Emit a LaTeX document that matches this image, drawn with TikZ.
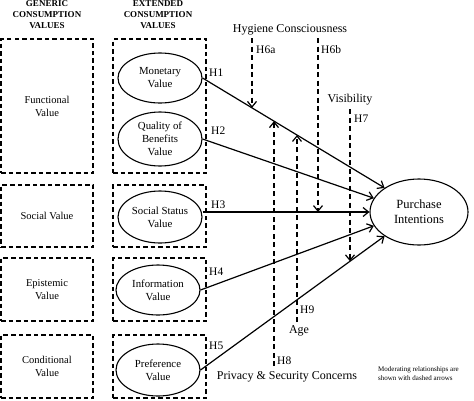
\documentclass[tikz,border=0pt]{standalone}
\usepackage{fontspec}
\setmainfont{Liberation Serif}
\usetikzlibrary{arrows.meta,intersections,calc}
\tikzset{
  x=1pt,y=-1pt,
  dbox/.style={draw,dashed,line width=1.3pt,dash pattern=on 4.5pt off 3pt,rectangle,inner sep=0pt,align=center,font=\fontsize{10.5}{13}\selectfont},
  ell/.style={draw,ellipse,line width=1.1pt,inner sep=0pt,minimum width=84pt,minimum height=50pt,align=center,font=\fontsize{10.8}{13}\selectfont},
  hdr/.style={align=center,font=\fontsize{9}{11}\selectfont\bfseries},
  lab/.style={font=\fontsize{11.5}{13}\selectfont,inner sep=0pt,anchor=west},
  modt/.style={font=\fontsize{12}{14}\selectfont,inner sep=0pt},
  rel/.style={line width=1.2pt,-{Straight Barb[length=5.5pt,width=9pt,line width=1.2pt]}},
  mod/.style={line width=1.6pt,dash pattern=on 5pt off 3.5pt,-{Straight Barb[length=5.5pt,width=9pt,line width=1.2pt]}},
}
\usetikzlibrary{shapes.geometric}
\begin{document}
\begin{tikzpicture}
\useasboundingbox (0,0) rectangle (474,400);
% headers
\node[hdr] (hg) at (47,15) {GENERIC\\CONSUMPTION\\VALUES};
\node[hdr] (he) at (158,15) {EXTENDED\\CONSUMPTION\\VALUES};
% generic boxes
\node[dbox,minimum width=92pt,minimum height=134pt] (g1) at (47,106) {Functional\\Value};
\node[dbox,minimum width=92pt,minimum height=62pt] (g2) at (47,216) {Social Value};
\node[dbox,minimum width=92pt,minimum height=63pt] (g3) at (47,289.5) {Epistemic\\Value};
\node[dbox,minimum width=92pt,minimum height=63pt] (g4) at (47,366.5) {Conditional\\Value};
% extended boxes
\node[dbox,minimum width=93pt,minimum height=134pt] (e1) at (159.5,106) {};
\node[dbox,minimum width=93pt,minimum height=62pt] (e2) at (159.5,216) {};
\node[dbox,minimum width=93pt,minimum height=63pt] (e3) at (159.5,289.5) {};
\node[dbox,minimum width=93pt,minimum height=63pt] (e4) at (159.5,366.5) {};
% ellipses
\node[ell] (mon) at (160,78) {Monetary\\Value};
\node[ell,minimum height=54pt] (qual) at (160,139) {Quality of\\Benefits\\Value};
\node[ell,minimum height=52pt] (soc) at (160,217) {Social Status\\Value};
\node[ell,minimum height=50pt] (inf) at (158,290) {Information\\Value};
\node[ell,minimum height=52pt] (pref) at (158,370) {Preference\\Value};
% outcome
\node[ell,minimum width=98pt,minimum height=66pt,font=\fontsize{12.5}{15}\selectfont] (pi) at (419,212) {Purchase\\Intentions};
% hypotheses labels
\node[lab] (l1) at (209,73) {H1};
\node[lab] (l2) at (211,131) {H2};
\node[lab] (l3) at (211,205) {H3};
\node[lab] (l4) at (209,272) {H4};
\node[lab] (l5) at (209,346) {H5};
% direct paths
\draw[rel,name path=h1] (mon.east) -- (pi.145);
\draw[rel] (qual.east) -- (pi.163);
\draw[rel,name path=h3] (soc.east |- pi.west) -- (pi.west);
\draw[rel] (inf.east) -- (pi.197);
\draw[rel,name path=h5] (pref.east) -- (pi.215);
% moderators
\node[modt] (hyg) at (290,30) {Hygiene Consciousness};
\node[modt] (vis) at (350,100) {Visibility};
\node[modt] (priv) at (287,377) {Privacy \& Security Concerns};
\node[modt] (age) at (299,331) {Age};
\coordinate (s6a) at (252,38);
\coordinate (s6b) at (318,38);
\coordinate (s7) at (350,109);
\coordinate (s8) at (274,366);
\coordinate (s9) at (297,322);
\path[name path=v6a] (s6a) -- ++(0,150);
\path[name path=v6b] (s6b) -- ++(0,250);
\path[name path=v7] (s7) -- ++(0,250);
\path[name path=v8] (s8) -- ++(0,-300);
\path[name path=v9] (s9) -- ++(0,-300);
\path[name intersections={of=v6a and h1,by=t6a}];
\path[name intersections={of=v6b and h3,by=t6b}];
\path[name intersections={of=v7 and h5,by=t7}];
\path[name intersections={of=v8 and h1,by=t8}];
\path[name intersections={of=v9 and h1,by=t9}];
\draw[mod] (s6a) -- (t6a);
\draw[mod] (s6b) -- (t6b);
\draw[mod] (s7) -- (t7);
\draw[mod] (s8) -- (t8);
\draw[mod] (s9) -- (t9);
\node[lab] (l6a) at (256,50) {H6a};
\node[lab] (l6b) at (321,50) {H6b};
\node[lab] (l7) at (354,119) {H7};
\node[lab] (l8) at (277,361) {H8};
\node[lab] (l9) at (300,310) {H9};
\node[align=left,anchor=west,inner sep=0pt,font=\fontsize{7}{9}\selectfont] (note) at (378,374) {Moderating relationships are\\shown with dashed arrows};
\end{tikzpicture}
\end{document}
